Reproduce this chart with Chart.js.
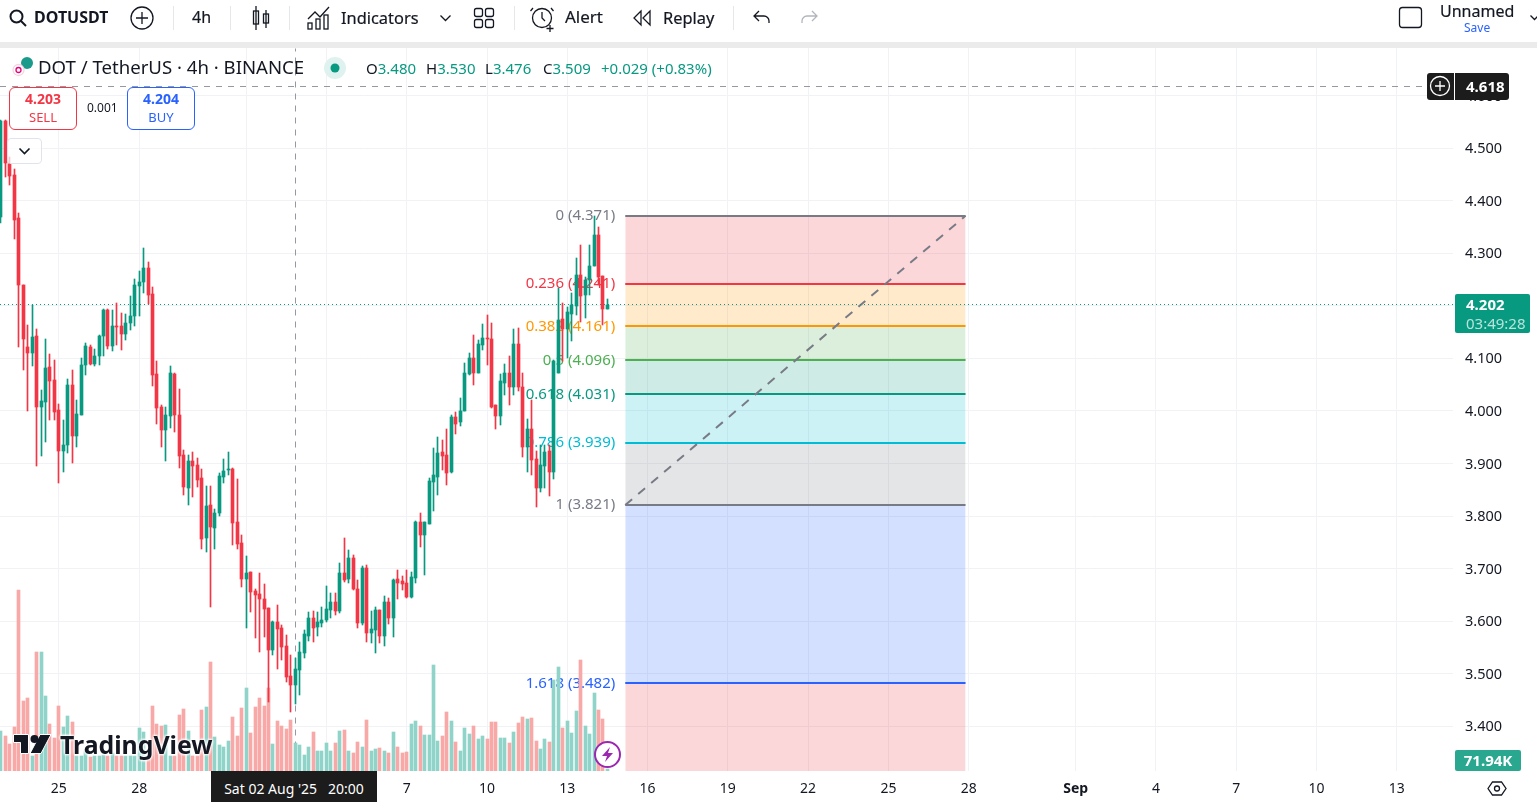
<!DOCTYPE html>
<html>
<head>
<meta charset="utf-8">
<script src="https://cdn.jsdelivr.net/npm/chart.js@4/dist/chart.umd.min.js"></script>
<style>
  html, body { margin: 0; padding: 0; background: #fff; overflow: hidden; }
  body { width: 1537px; height: 803px; position: relative; font-family: "Noto Sans", sans-serif; color: #131722; }
  #chart { position: absolute; left: 0; top: 0; }
  .t { position: absolute; white-space: nowrap; }
  .sep { position: absolute; top: 6px; width: 1px; height: 24px; background: #e6e7ea; }
  .band { position: absolute; left: 0; top: 42px; width: 1537px; height: 6px; background: #ebebeb; }
  svg { position: absolute; overflow: visible; }
  svg * { fill: none; stroke: #131722; stroke-width: 1.3; }
  .box { position: absolute; box-sizing: border-box; border-radius: 6px; background: rgba(255,255,255,.72); text-align: center; }
  .tag { position: absolute; color: #fff; font-weight: 700; font-size: 15px; }
  .ohlc { position: absolute; white-space: nowrap; top: 58px; font-size: 15px; color: #089981; }
  .ohlc b { font-weight: 400; color: #131722; }
</style>
</head>
<body>
<canvas id="chart" width="1537" height="803"></canvas>

<!-- toolbar -->
<div class="band"></div>
<svg style="left:9px;top:9px" width="18" height="18"><circle cx="7.5" cy="7.5" r="6" style="stroke-width:2"/><path d="M12 12l5 5" style="stroke-width:2"/></svg>
<div class="t" style="left:34px;top:6px;font-size:16px;font-weight:700;width:74px;overflow:hidden">DOTUSDT</div>
<svg style="left:130px;top:6px" width="24" height="24"><circle cx="12" cy="12" r="11"/><path d="M12 6v12M6 12h12"/></svg>
<div class="sep" style="left:173px"></div>
<div class="t" style="left:192px;top:6px;font-size:16px;-webkit-text-stroke:0.2px #131722">4h</div>
<div class="sep" style="left:230px"></div>
<svg style="left:252px;top:5px" width="18" height="26"><path d="M4 1v24M14 5v18"/><rect x="1.5" y="6" width="5" height="13"/><rect x="11.5" y="9" width="5" height="9"/></svg>
<div class="sep" style="left:289px"></div>
<svg style="left:307px;top:5px" width="24" height="24"><path d="M1 14l7-7 5 5 9-10"/><rect x="1" y="18" width="4" height="6"/><rect x="9" y="14" width="4" height="10"/><rect x="17" y="10" width="4" height="14"/></svg>
<div class="t" style="left:341px;top:6px;font-size:16.400px;-webkit-text-stroke:0.2px #131722">Indicators</div>
<svg style="left:440px;top:15px" width="11" height="6"><path d="M0.5 0.5l5 5 5-5"/></svg>
<svg style="left:474px;top:8px" width="20" height="20"><rect x="0.5" y="0.5" width="8" height="8" rx="2"/><rect x="11.5" y="0.5" width="8" height="8" rx="2"/><rect x="0.5" y="11.5" width="8" height="8" rx="2"/><rect x="11.5" y="11.5" width="8" height="8" rx="2"/></svg>
<div class="sep" style="left:514px"></div>
<svg style="left:530px;top:5px" width="26" height="26"><circle cx="12" cy="13" r="9.5"/><path d="M12 7v6l3 3M3 3L0.5 6M21 3l2.5 3M20 20v7M16.5 23.5h7"/></svg>
<div class="t" style="left:565px;top:5px;font-size:17px;-webkit-text-stroke:0.2px #131722">Alert</div>
<svg style="left:632px;top:10px" width="19" height="16"><path d="M9 1L2 8l7 7zM18 1l-7 7 7 7z"/></svg>
<div class="t" style="left:663px;top:6px;font-size:16.400px;-webkit-text-stroke:0.2px #131722">Replay</div>
<div class="sep" style="left:733px"></div>
<svg style="left:753px;top:10px" width="17" height="14"><path d="M6 1L1 6l5 5M1 6h10a5 5 0 0 1 5 5v2"/></svg>
<svg style="left:801px;top:10px" width="17" height="14"><path style="stroke:#b2b5be" d="M11 1l5 5-5 5M16 6H6a5 5 0 0 0-5 5v2"/></svg>
<svg style="left:1399px;top:7px" width="23" height="21"><rect x="0.5" y="0.5" width="22" height="20" rx="3"/></svg>
<div class="t" style="left:1440px;top:0px;font-size:16px;-webkit-text-stroke:0.2px #131722">Unnamed</div>
<div class="t" style="left:1464px;top:19px;font-size:12px;color:#2962ff">Save</div>
<svg style="left:1530px;top:15px" width="8" height="6"><path d="M0.5 0.5l4 4 4-4"/></svg>

<!-- legend -->
<svg style="left:12px;top:56px" width="22" height="22"><circle cx="15" cy="7" r="6" style="fill:#1a9a8a;stroke:none"/><circle cx="6.500" cy="14" r="5.500" style="fill:#fff;stroke:#f4d6de"/><circle cx="6.500" cy="14" r="2.500" style="stroke:#e6007a"/></svg>
<div class="t" style="left:38px;top:54px;font-size:18.600px">DOT / TetherUS · 4h · BINANCE</div>
<svg style="left:324px;top:57px" width="22" height="22"><circle cx="11" cy="11" r="11" style="fill:#dff2ef;stroke:none"/><circle cx="11" cy="11" r="4.500" style="fill:#089981;stroke:none"/></svg>
<div class="ohlc" style="left:366px"><b>O</b>3.480</div>
<div class="ohlc" style="left:426px"><b>H</b>3.530</div>
<div class="ohlc" style="left:485px"><b>L</b>3.476</div>
<div class="ohlc" style="left:543px"><b>C</b>3.509</div>
<div class="ohlc" style="left:601px">+0.029 (+0.83%)</div>

<div class="box" style="left:9px;top:87px;width:68px;height:43px;border:1px solid #f23645;color:#f23645">
  <div style="font-size:14px;font-weight:700;line-height:22px">4.203</div><div style="font-size:13px;line-height:15px">SELL</div>
</div>
<div class="t" style="left:87px;top:99px;font-size:12px">0.001</div>
<div class="box" style="left:127px;top:87px;width:68px;height:43px;border:1px solid #2962ff;color:#2962ff">
  <div style="font-size:14px;font-weight:700;line-height:22px">4.204</div><div style="font-size:13px;line-height:15px">BUY</div>
</div>
<div class="box" style="left:7px;top:138px;width:35px;height:26px;border:1px solid #e0e3eb;border-radius:4px"></div>
<svg style="left:19px;top:148px" width="11" height="6"><path d="M0.5 0.5l5 5 5-5" style="stroke-width:1.6"/></svg>

<!-- watermark -->
<div class="t" style="left:60px;top:727px;font-size:24.800px;font-weight:700;color:#131722;text-shadow:0 0 3px #fff,0 0 3px #fff,0 0 3px #fff,0 0 3px #fff">TradingView</div>
<svg style="left:13px;top:734px" width="40" height="20"><path style="fill:#131722;stroke:#fff;stroke-width:1" d="M0.500 0.500H15.500V19.500H7.500V8.500H0.500zM27 0.500H38L28 19.500H17z"/><circle cx="21.500" cy="5" r="4" style="fill:#131722;stroke:none"/></svg>
<svg style="left:594px;top:741px" width="27" height="27"><circle cx="13.500" cy="13.500" r="12.500" style="fill:#fff;stroke:#9c27b0;stroke-width:2"/><path d="M16 6L8 15h5l-2 6 8-9h-5z" style="fill:#9c27b0;stroke:none"/></svg>

<!-- axis tags -->
<div class="tag" style="left:1427px;top:73px;width:82px;height:27px;background:#1c1c1c;border-radius:3px"></div>
<div class="tag" style="left:1454px;top:73px;width:1px;height:27px;background:#fff"></div>
<svg style="left:1429px;top:75px" width="22" height="22"><circle cx="11" cy="11" r="9.500" style="stroke:#fff"/><path d="M11 6v10M6 11h10" style="stroke:#fff"/></svg>
<div class="tag" style="left:1466px;top:76px;line-height:21px">4.618</div>
<div class="tag" style="left:1455px;top:294px;width:75px;height:39px;background:#089981;border-radius:2px;line-height:19px"><div style="margin:1px 0 0 11px">4.202</div><div style="margin-left:11px;font-weight:400;color:rgba(255,255,255,.72)">03:49:28</div></div>
<div class="tag" style="left:1455px;top:750px;width:66px;height:21px;background:#2aa88f;line-height:21px;border-radius:2px;text-align:center">71.94K</div>
<div class="tag" style="left:211px;top:771px;width:166px;height:31px;background:#1c1c1c;line-height:35px;font-weight:400;font-size:14px;text-align:center">Sat 02 Aug '25&nbsp;&nbsp; 20:00</div>
<svg style="left:1487px;top:781px" width="20" height="15"><path d="M1 7.500L5.500 1h9L19 7.500 14.500 14h-9z"/><circle cx="10" cy="7.500" r="2.500"/></svg>

<script>
// one candle every 4h, first one on screen
const firstBar = Date.UTC(2025, 6, 22, 20);
const barMs = 4 * 3600 * 1000;

const opens = [
  4.368,4.552,4.470,4.448,4.366,4.240,4.121,4.111,4.143,4.007,
  4.016,4.083,4.058,4.001,3.923,3.935,4.049,3.952,3.993,4.087,
  4.121,4.090,4.104,4.142,4.191,4.123,4.162,4.162,4.147,4.168,
  4.180,4.237,4.246,4.271,4.223,4.071,4.007,3.963,3.990,4.071,
  3.993,3.916,3.853,3.904,3.897,3.872,3.758,3.821,3.777,3.805,
  3.874,3.887,3.889,3.788,3.748,3.680,3.693,3.657,3.651,3.642,
  3.625,3.545,3.598,3.587,3.553,3.496,3.479,3.507,3.539,3.572,
  3.606,3.589,3.596,3.602,3.621,3.636,3.619,3.691,3.680,3.720,
  3.661,3.596,3.701,3.577,3.583,3.621,3.572,3.636,3.606,3.680,
  3.676,3.672,3.646,3.682,3.788,3.764,3.784,3.864,3.874,3.921,
  3.916,3.883,3.988,3.978,3.999,4.071,4.100,4.073,4.126,4.138,
  4.136,4.011,3.990,4.054,4.073,4.045,4.128,4.045,3.931,3.965,
  3.908,3.853,3.895,3.923,3.883,4.073,4.174,4.155,4.185,4.199,
  4.259,4.220,4.248,4.275,4.334,4.256,4.193
];
const highs = [
  4.554,4.554,4.482,4.461,4.377,4.240,4.164,4.202,4.155,4.039,
  4.136,4.109,4.096,4.014,3.982,4.060,4.077,4.020,4.100,4.130,
  4.126,4.117,4.145,4.193,4.193,4.191,4.206,4.187,4.185,4.218,
  4.250,4.267,4.309,4.284,4.235,4.094,4.012,4.007,4.085,4.073,
  4.041,3.925,3.916,3.921,3.910,3.889,3.857,3.858,3.813,3.881,
  3.908,3.921,3.891,3.870,3.764,3.724,3.693,3.661,3.691,3.670,
  3.625,3.600,3.630,3.593,3.574,3.536,3.530,3.560,3.583,3.617,
  3.619,3.617,3.627,3.667,3.653,3.653,3.710,3.758,3.735,3.726,
  3.678,3.705,3.706,3.619,3.627,3.621,3.648,3.644,3.680,3.697,
  3.686,3.697,3.693,3.790,3.805,3.788,3.872,3.929,3.950,3.944,
  3.965,3.992,3.997,4.024,4.092,4.111,4.144,4.134,4.166,4.182,
  4.168,4.011,4.071,4.090,4.105,4.155,4.157,4.073,3.984,4.020,
  3.923,3.935,3.935,3.935,4.096,4.233,4.206,4.197,4.225,4.290,
  4.316,4.254,4.315,4.370,4.349,4.256,4.212
];
const lows = [
  4.357,4.444,4.429,4.326,4.121,4.077,4.000,4.085,3.895,3.914,
  3.940,3.982,3.982,3.862,3.883,3.919,3.900,3.931,3.993,4.069,
  4.088,4.085,4.087,4.104,4.117,4.113,4.125,4.115,4.134,4.153,
  4.162,4.181,4.225,4.204,4.048,3.976,3.931,3.904,3.967,3.959,
  3.891,3.840,3.821,3.836,3.855,3.737,3.731,3.627,3.737,3.800,
  3.862,3.879,3.745,3.737,3.665,3.587,3.617,3.568,3.541,3.570,
  3.446,3.536,3.509,3.526,3.484,3.427,3.442,3.460,3.530,3.562,
  3.560,3.572,3.589,3.598,3.606,3.612,3.615,3.674,3.672,3.659,
  3.587,3.592,3.560,3.558,3.539,3.558,3.553,3.594,3.570,3.642,
  3.659,3.644,3.644,3.672,3.741,3.688,3.784,3.809,3.840,3.887,
  3.859,3.881,3.957,3.971,3.999,4.069,4.050,4.073,4.115,4.087,
  4.005,3.965,3.974,4.031,4.011,4.031,4.037,3.912,3.883,3.878,
  3.817,3.845,3.853,3.838,3.870,4.073,4.094,4.100,4.132,4.182,
  4.170,4.176,4.221,4.275,4.240,4.164,4.193
];
const closes = [
  4.552,4.471,4.446,4.364,4.240,4.136,4.111,4.140,4.007,4.018,
  4.081,4.056,3.997,3.923,3.936,4.049,3.952,3.995,4.088,4.123,
  4.090,4.105,4.143,4.191,4.123,4.162,4.161,4.147,4.168,4.180,
  4.240,4.246,4.271,4.221,4.069,4.005,3.963,3.992,4.073,3.992,
  3.914,3.855,3.904,3.895,3.868,3.756,3.819,3.779,3.805,3.876,
  3.885,3.889,3.786,3.746,3.680,3.691,3.655,3.650,3.642,3.623,
  3.545,3.598,3.585,3.551,3.494,3.479,3.509,3.541,3.575,3.606,
  3.587,3.598,3.602,3.623,3.636,3.619,3.691,3.678,3.720,3.661,
  3.596,3.701,3.577,3.585,3.621,3.572,3.636,3.606,3.678,3.672,
  3.670,3.646,3.684,3.788,3.764,3.788,3.866,3.878,3.919,3.914,
  3.881,3.988,3.976,3.999,4.073,4.100,4.073,4.128,4.138,4.136,
  4.007,3.990,4.056,4.073,4.045,4.128,4.045,3.931,3.965,3.906,
  3.853,3.897,3.921,3.883,4.094,4.172,4.155,4.189,4.202,4.259,
  4.218,4.248,4.275,4.334,4.254,4.193,4.202
];
// thousands
const volumes = [
  1440,1260,972,1584,6516,2520,2628,540,4284,4284,
  2700,1692,1188,2340,1584,1980,1764,540,540,720,
  504,540,540,576,540,648,540,540,540,540,
  540,1548,1404,648,2340,1692,1620,1656,540,540,
  2016,2232,1440,540,540,2196,2304,3924,1224,936,
  864,1080,1944,1260,2268,2988,1368,2304,2628,2340,
  2988,972,1800,1620,1512,1836,1008,936,576,864,
  1404,720,720,1008,720,1008,1440,1476,720,648,
  1044,864,1836,720,792,828,720,648,1404,864,
  648,684,1692,1800,1620,1296,1296,3816,1080,1260,
  2124,1800,1044,720,1548,1332,1620,1152,1260,1152,
  1764,1764,1188,1188,1008,1404,1728,1944,1872,1908,
  1080,792,1152,1044,3276,3744,1548,1800,1368,2160,
  3996,1620,1332,2808,2196,1872,71.94
];

const priceTicks = [3.4,3.5,3.6,3.7,3.8,3.9,4.0,4.1,4.2,4.3,4.4,4.5,4.6];
const tickLabels = ['25','28','Aug','4','7','10','13','16','19','22','25','28','Sep','4','7','10','13'];
const tickDates = ['2025-07-25','2025-07-28','2025-08-01','2025-08-04','2025-08-07','2025-08-10','2025-08-13','2025-08-16',
  '2025-08-19','2025-08-22','2025-08-25','2025-08-28','2025-09-01','2025-09-04','2025-09-07','2025-09-10','2025-09-13'];

const fibRatios = ['0','0.236','0.382','0.5','0.618','0.786','1','1.618','2.618'];
const fibPrices = [4.371,4.241,4.161,4.096,4.031,3.939,3.821,3.482,2.931];
const fibColors = ['#787b86','#f23645','#ff9800','#4caf50','#089981','#00bcd4','#787b86','#2962ff','#f23645'];
const fibFills = ['','rgba(242,54,69,.2)','rgba(255,152,0,.2)','rgba(76,175,80,.2)','rgba(8,153,129,.2)','rgba(0,188,212,.2)','rgba(120,123,134,.2)','rgba(41,98,255,.2)','rgba(242,54,69,.2)'];
const fibStartBar = 140, fibEndBar = 216.3;

const lastPrice = 4.202;
const crossPrice = 4.617, crossBar = 66;

const GREEN = '#089981', RED = '#f23645';
const FONT = '"Noto Sans", sans-serif';
const xMin = -0.2, xMax = 325.6, yMin = 3.3151, yMax = 4.6902;

const tickBars = tickDates.map(d => (Date.parse(d + 'T00:00:00Z') - firstBar) / barMs);
const bars = opens.map((o, i) => i);
const isUp = i => closes[i] >= opens[i];

const datasets = [];

// fib levels, each one fills up to the previous level
fibPrices.forEach((p, i) => {
  datasets.push({
    type: 'line', order: 6, snap: true,
    data: [{ x: fibStartBar, y: p }, { x: fibEndBar, y: p }],
    borderColor: fibColors[i], borderWidth: 2, pointRadius: 0,
    fill: i === 0 ? false : '-1', backgroundColor: fibFills[i]
  });
});
// fib trend line
datasets.push({
  type: 'line', order: 5,
  data: [{ x: fibStartBar, y: fibPrices[6] }, { x: fibEndBar, y: fibPrices[0] }],
  borderColor: '#787b86', borderWidth: 2, borderDash: [9, 8], pointRadius: 0, fill: false
});
// last price and crosshair
datasets.push({
  type: 'line', order: 4, snap: true,
  data: [{ x: xMin, y: lastPrice }, { x: xMax, y: lastPrice }],
  borderColor: GREEN, borderWidth: 1, borderDash: [1, 3], pointRadius: 0, fill: false
});
datasets.push({
  type: 'line', order: 4, snap: true,
  data: [{ x: xMin, y: crossPrice }, { x: xMax, y: crossPrice }],
  borderColor: '#9598a1', borderWidth: 1, borderDash: [6, 6], pointRadius: 0, fill: false
});
datasets.push({
  type: 'line', order: 4, snap: true,
  data: [{ x: crossBar, y: yMin }, { x: crossBar, y: yMax }],
  borderColor: '#9598a1', borderWidth: 1, borderDash: [6, 6], pointRadius: 0, fill: false
});
// volume, wicks, bodies
datasets.push({
  type: 'bar', order: 3, yAxisID: 'vol', grouped: false, barThickness: 3, snap: true,
  data: bars.map(i => ({ x: i, y: volumes[i] })),
  backgroundColor: bars.map(i => isUp(i) ? '#8fd3c9' : '#f7a8a7')
});
datasets.push({
  type: 'bar', order: 2, grouped: false, barThickness: 1, snap: true,
  data: bars.map(i => ({ x: i, y: [lows[i], highs[i]] })),
  backgroundColor: bars.map(i => isUp(i) ? GREEN : RED)
});
datasets.push({
  type: 'bar', order: 1, grouped: false, barThickness: 3, snap: true,
  data: bars.map(i => ({ x: i, y: [opens[i], closes[i]] })),
  backgroundColor: bars.map(i => isUp(i) ? GREEN : RED)
});

// keep marks on whole pixels so they stay sharp like the original
const snapPlugin = {
  id: 'snap',
  afterDatasetsUpdate(chart) {
    chart.data.datasets.forEach((ds, n) => {
      if (!ds.snap) return;
      const meta = chart.getDatasetMeta(n);
      meta.data.forEach(el => {
        if (ds.type === 'bar') {
          el.x = Math.floor(el.x) + 0.5;
          el.y = Math.round(el.y);
          el.base = Math.round(el.base);
          if (el.y === el.base) el.base = el.y + 1;
        } else {
          const w = ds.borderWidth;
          el.y = w === 1 ? Math.floor(el.y) + 0.5 : Math.floor(el.y + 0.2);
          if (ds.data[0].x === ds.data[1].x) el.x = Math.floor(el.x) + 0.5;
        }
      });
    });
  }
};

// fib labels sit under the candles
const fibLabelPlugin = {
  id: 'fibLabels',
  beforeDatasetsDraw(chart) {
    const { ctx, scales } = chart;
    ctx.save();
    ctx.font = '15px ' + FONT;
    ctx.textAlign = 'right';
    ctx.textBaseline = 'middle';
    fibPrices.forEach((p, i) => {
      if (p < yMin) return;
      ctx.fillStyle = fibColors[i];
      ctx.fillText(fibRatios[i] + ' (' + p.toFixed(3) + ')', scales.x.getPixelForValue(fibStartBar) - 10, scales.y.getPixelForValue(p));
    });
    ctx.restore();
  }
};

new Chart(document.getElementById('chart').getContext('2d'), {
  type: 'bar',
  data: { datasets },
  plugins: [snapPlugin, fibLabelPlugin],
  options: {
    responsive: false,
    animation: false,
    events: [],
    layout: { autoPadding: false, padding: { top: 48, left: 0, right: 0, bottom: 0 } },
    plugins: { legend: { display: false }, tooltip: { enabled: false } },
    scales: {
      x: {
        type: 'linear', min: xMin, max: xMax, offset: false,
        afterBuildTicks: s => { s.ticks = tickBars.map(v => ({ value: v })); },
        afterFit: s => { s.height = 32; s.paddingLeft = 0; s.paddingRight = 0; },
        grid: { color: '#f1f2f5', drawTicks: false, offset: false },
        border: { display: false },
        ticks: {
          autoSkip: false, maxRotation: 0, padding: 10, color: '#131722',
          font: c => ({ family: FONT, size: 14, weight: c.tick && c.tick.value === tickBars[12] ? 'bold' : 'normal' }),
          callback: v => tickLabels[tickBars.indexOf(v)]
        }
      },
      y: {
        position: 'right', min: yMin, max: yMax,
        afterBuildTicks: s => { s.ticks = priceTicks.map(v => ({ value: v })); },
        afterFit: s => { s.width = 84; s.paddingTop = 0; s.paddingBottom = 0; },
        grid: { color: '#f1f2f5', drawTicks: false },
        border: { display: false },
        ticks: {
          padding: 12, labelOffset: 1, color: '#131722', font: { family: FONT, size: 14.500 },
          callback: v => v.toFixed(3)
        }
      },
      vol: { display: false, min: 0, max: 26028 }
    }
  }
});
</script>
</body>
</html>
